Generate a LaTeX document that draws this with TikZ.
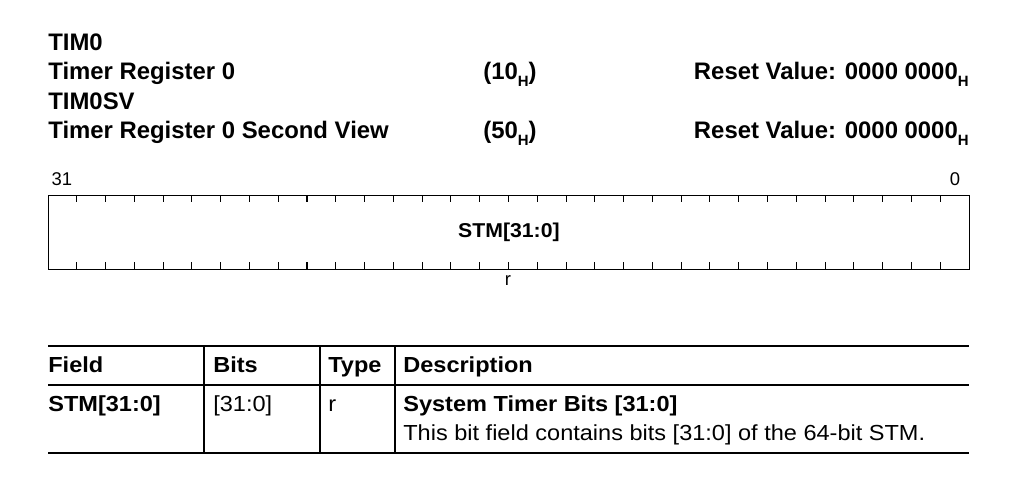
\documentclass[tikz,border=0pt]{standalone}
\usepackage{fontspec}
\setmainfont{Liberation Sans}
\newfontfamily\tabfont[FakeStretch=1.08]{Liberation Sans}
\newfontfamily\regfont[FakeStretch=1.06]{Liberation Sans}
\newcommand{\hsub}{\raisebox{-4pt}{\fontsize{8.5}{8.5}\selectfont H}}
\usetikzlibrary{positioning}

\begin{document}
\begin{tikzpicture}[%
x=0.02cm, y=-0.02cm,
every node/.style = {inner sep=0pt, anchor=base west},
title/.style = {font=\bfseries\fontsize{13.6}{16}\selectfont},
bitnum/.style = {anchor=base, font=\fontsize{10.5}{12}\selectfont},
regbox/.style = {draw, line width=0.6pt, anchor=north west, minimum width=18.42cm, minimum height=1.48cm, font=\regfont\bfseries\fontsize{11.4}{13}\selectfont},
head/.style = {font=\tabfont\bfseries\fontsize{12.4}{14}\selectfont},
cell/.style = {font=\tabfont\fontsize{12.4}{14}\selectfont},
rule/.style = {line width=0.6pt}]
\useasboundingbox (0,0) rectangle (1033,483);
\node[title] (tim0) at (48,51) {TIM0};
\node[title] (name0) at (48,79.5) {Timer Register 0};
\node[title] (addr0) at (483,79.5) {(10\hsub)};
\node[title,anchor=base east] (reset0) at (969,79.5) {Reset Value: 0000 0000\hsub};
\node[title] (tim0sv) at (48,110) {TIM0SV};
\node[title] (name1) at (48,138.5) {Timer Register 0 Second View};
\node[title] (addr1) at (483,138.5) {(50\hsub)};
\node[title,anchor=base east] (reset1) at (969,138.5) {Reset Value: 0000 0000\hsub};
\node[bitnum] (msb) at (62,185) {31};
\node[bitnum] (lsb) at (955,185) {0};
\node[regbox] (reg) at (48,195) {STM[31:0]};
\foreach \i in {1,...,31} {
    \draw[rule] ({48+\i*28.78},195) -- ++(0,7);
    \draw[rule] ({48+\i*28.78},269) -- ++(0,-7);
}
\node[bitnum] (acc) at (508,285) {r};
\draw[rule] (48,346) -- (969,346);
\draw[rule] (48,385) -- (969,385);
\draw[rule] (48,453) -- (969,453);
\foreach \x in {204,320,395}
    \draw[rule] (\x,346) -- (\x,453);
\node[head] (hfield) at (48,372) {Field};
\node[head] (hbits) at (213,372) {Bits};
\node[head] (htype) at (328,372) {Type};
\node[head] (hdesc) at (403,372) {Description};
\node[head] (field) at (48,411) {STM[31:0]};
\node[cell] (bits) at (213,411) {[31:0]};
\node[cell] (type) at (328,411) {r};
\node[head] (desc) at (403,411) {System Timer Bits [31:0]};
\node[cell] (desctext) at (403,440) {This bit field contains bits [31:0] of the 64-bit STM.};
\end{tikzpicture}
\end{document}
